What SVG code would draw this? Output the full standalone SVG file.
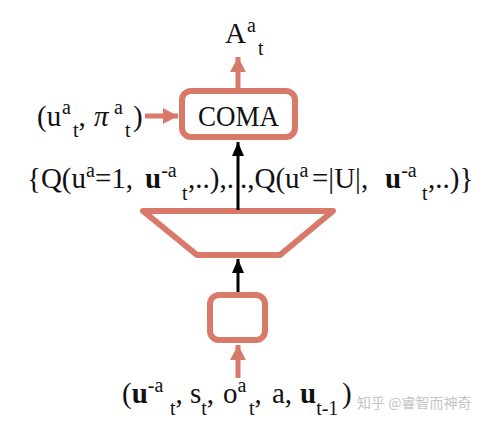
<svg xmlns="http://www.w3.org/2000/svg" width="488" height="429" viewBox="0 0 488 429">
<style>
.t{font-family:"Liberation Serif","Times New Roman",serif;font-size:29px;fill:#111}
.s{font-size:20px}
.b{font-weight:bold}
.node{fill:none;stroke:#d8796a;stroke-width:6}
.oa{stroke:#d8796a;stroke-width:5;fill:none}
.ba{stroke:#000;stroke-width:3;fill:none}
.wm{font-family:"Noto Sans CJK SC","Noto Sans",sans-serif;font-size:14px;fill:#c4c4c4}
</style>
<defs>
<marker id="oh" markerUnits="userSpaceOnUse" markerWidth="15" markerHeight="16" refX="15" refY="8" orient="auto"><path d="M0,0 L15,8 L0,16 z" fill="#d8796a"/></marker>
<marker id="bh" markerUnits="userSpaceOnUse" markerWidth="14" markerHeight="12" refX="14" refY="6" orient="auto"><path d="M0,0 L14,6 L0,12 z" fill="#000"/></marker>
</defs>
<rect width="488" height="429" fill="#fff"/>

<g id="output-label">
<text class="t" x="225" y="43">A<tspan class="s" x="247" dy="-11">a</tspan><tspan class="s" x="258" dy="23">t</tspan></text>
</g>

<g id="coma">
<rect class="node" x="182" y="91" width="113" height="46" rx="9"/>
<text class="t" x="238.5" y="126" text-anchor="middle" textLength="81" lengthAdjust="spacingAndGlyphs">COMA</text>
</g>

<g id="policy-input">
<text class="t" x="37" y="126">(u<tspan class="s" x="62" dy="-12">a</tspan><tspan class="s" x="73" dy="23">t</tspan><tspan dy="-11">,</tspan><tspan x="94" font-style="italic">π</tspan><tspan class="s" x="114" dy="-12">a</tspan><tspan class="s" x="125" dy="23">t</tspan><tspan x="133" dy="-11">)</tspan></text>
</g>

<g id="q-values">
<text class="t" x="27" y="188">{Q(u<tspan class="s" dy="-11">a</tspan><tspan x="95" dy="11">=1,</tspan><tspan class="b" x="145">u</tspan><tspan class="s" dy="-11">-a</tspan><tspan class="s" x="182" dy="23">t</tspan><tspan x="188" dy="-12">,..),.</tspan><tspan x="240">.,Q(u</tspan><tspan class="s" dy="-11">a</tspan><tspan x="312" dy="11">=|U|,</tspan><tspan class="b" x="385">u</tspan><tspan class="s" dy="-11">-a</tspan><tspan class="s" x="422" dy="23">t</tspan><tspan x="428" dy="-12">,..)}</tspan></text>
</g>

<g id="critic">
<polygon class="node" points="143,211 333,211 280,255 197,255" stroke-width="5" stroke-linejoin="round"/>
</g>

<g id="encoder">
<rect class="node" x="210" y="295" width="55" height="45" rx="9"/>
</g>

<g id="state-input">
<text class="t" x="122" y="403">(<tspan class="b">u</tspan><tspan class="s" dy="-11">-a</tspan><tspan class="s" x="170" dy="23">t</tspan><tspan dy="-12">,</tspan><tspan x="190">s</tspan><tspan class="s" dy="12">t</tspan><tspan dy="-12">,</tspan><tspan x="223">o</tspan><tspan class="s" dy="-11">a</tspan><tspan class="s" x="249" dy="23">t</tspan><tspan dy="-12">,</tspan><tspan x="272">a,</tspan><tspan class="b" x="300">u</tspan><tspan class="s" dy="12">t-1</tspan><tspan x="342" dy="-12">)</tspan></text>
</g>

<g id="connectors">
<line class="oa" x1="238" y1="89" x2="238" y2="57" marker-end="url(#oh)"/>
<line class="oa" x1="145" y1="116" x2="178" y2="116" marker-end="url(#oh)"/>
<line class="ba" x1="238" y1="210" x2="238" y2="142" marker-end="url(#bh)"/>
<line class="ba" x1="238" y1="292" x2="238" y2="259" marker-end="url(#bh)"/>
<line class="oa" x1="238" y1="378" x2="238" y2="345" marker-end="url(#oh)"/>
</g>

<text class="wm" x="357" y="408">知乎 @睿智而神奇</text>
</svg>
